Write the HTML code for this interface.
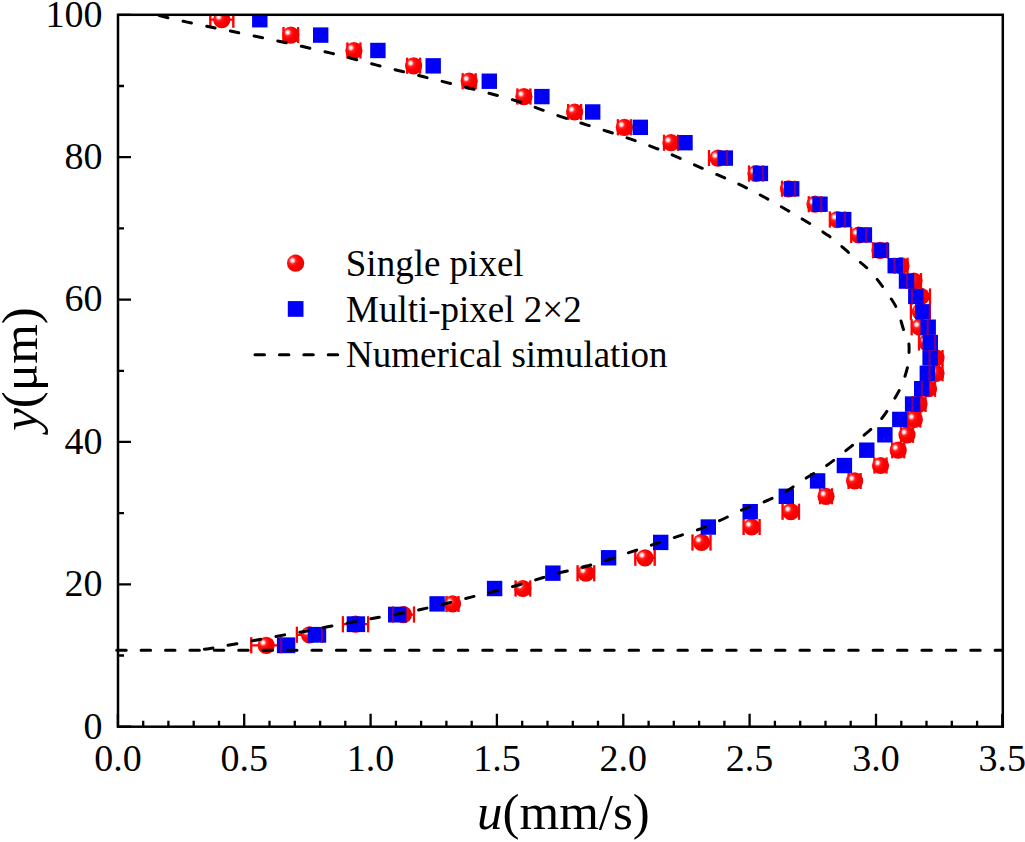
<!DOCTYPE html><html><head><meta charset="utf-8"><style>html,body{margin:0;padding:0;background:#fff;overflow:hidden}svg{display:block}</style></head><body>
<svg width="1025" height="842" viewBox="0 0 1025 842" font-family="Liberation Serif, serif">
<defs><radialGradient id="ball" cx="0.32" cy="0.36" r="0.75" fx="0.32" fy="0.34"><stop offset="0" stop-color="#ffffff"/><stop offset="0.1" stop-color="#ffe8e8"/><stop offset="0.27" stop-color="#ff2020"/><stop offset="0.5" stop-color="#ff0000"/><stop offset="0.85" stop-color="#f20000"/><stop offset="1" stop-color="#c80000"/></radialGradient><clipPath id="plot"><rect x="118.0" y="14.8" width="884.8" height="711.9"/></clipPath></defs>
<rect width="1025" height="842" fill="#fff"/>
<g clip-path="url(#plot)">
<path d="M210.3,19.7H233.3M210.3,11.7V27.7M233.3,11.7V27.7" stroke="#ff0000" stroke-width="2.2" fill="none"/>
<path d="M283.5,35.1H298.1M283.5,27.1V43.1M298.1,27.1V43.1" stroke="#ff0000" stroke-width="2.2" fill="none"/>
<path d="M347.4,50.5H360.4M347.4,42.5V58.5M360.4,42.5V58.5" stroke="#ff0000" stroke-width="2.2" fill="none"/>
<path d="M407.1,65.8H420.1M407.1,57.8V73.8M420.1,57.8V73.8" stroke="#ff0000" stroke-width="2.2" fill="none"/>
<path d="M462.7,81.2H475.7M462.7,73.2V89.2M475.7,73.2V89.2" stroke="#ff0000" stroke-width="2.2" fill="none"/>
<path d="M517.4,96.6H530.4M517.4,88.6V104.6M530.4,88.6V104.6" stroke="#ff0000" stroke-width="2.2" fill="none"/>
<path d="M568.1,112.0H581.1M568.1,104.0V120.0M581.1,104.0V120.0" stroke="#ff0000" stroke-width="2.2" fill="none"/>
<path d="M617.9,127.3H630.9M617.9,119.3V135.3M630.9,119.3V135.3" stroke="#ff0000" stroke-width="2.2" fill="none"/>
<path d="M664.0,142.7H678.0M664.0,134.7V150.7M678.0,134.7V150.7" stroke="#ff0000" stroke-width="2.2" fill="none"/>
<path d="M709.0,158.1H727.0M709.0,150.1V166.1M727.0,150.1V166.1" stroke="#ff0000" stroke-width="2.2" fill="none"/>
<path d="M749.0,173.5H763.0M749.0,165.5V181.5M763.0,165.5V181.5" stroke="#ff0000" stroke-width="2.2" fill="none"/>
<path d="M782.0,188.8H795.0M782.0,180.8V196.8M795.0,180.8V196.8" stroke="#ff0000" stroke-width="2.2" fill="none"/>
<path d="M808.8,204.2H821.2M808.8,196.2V212.2M821.2,196.2V212.2" stroke="#ff0000" stroke-width="2.2" fill="none"/>
<path d="M829.9,219.6H844.9M829.9,211.6V227.6M844.9,211.6V227.6" stroke="#ff0000" stroke-width="2.2" fill="none"/>
<path d="M851.2,235.0H866.2M851.2,227.0V243.0M866.2,227.0V243.0" stroke="#ff0000" stroke-width="2.2" fill="none"/>
<path d="M873.0,250.3H887.0M873.0,242.3V258.3M887.0,242.3V258.3" stroke="#ff0000" stroke-width="2.2" fill="none"/>
<path d="M894.5,265.7H907.5M894.5,257.7V273.7M907.5,257.7V273.7" stroke="#ff0000" stroke-width="2.2" fill="none"/>
<path d="M907.0,281.1H921.0M907.0,273.1V289.1M921.0,273.1V289.1" stroke="#ff0000" stroke-width="2.2" fill="none"/>
<path d="M912.0,296.4H930.0M912.0,288.4V304.4M930.0,288.4V304.4" stroke="#ff0000" stroke-width="2.2" fill="none"/>
<path d="M910.9,311.8H929.9M910.9,303.8V319.8M929.9,303.8V319.8" stroke="#ff0000" stroke-width="2.2" fill="none"/>
<path d="M911.7,327.2H927.7M911.7,319.2V335.2M927.7,319.2V335.2" stroke="#ff0000" stroke-width="2.2" fill="none"/>
<path d="M919.0,342.6H935.0M919.0,334.6V350.6M935.0,334.6V350.6" stroke="#ff0000" stroke-width="2.2" fill="none"/>
<path d="M929.5,357.9H942.5M929.5,349.9V365.9M942.5,349.9V365.9" stroke="#ff0000" stroke-width="2.2" fill="none"/>
<path d="M929.5,373.3H942.5M929.5,365.3V381.3M942.5,365.3V381.3" stroke="#ff0000" stroke-width="2.2" fill="none"/>
<path d="M922.0,388.7H935.0M922.0,380.7V396.7M935.0,380.7V396.7" stroke="#ff0000" stroke-width="2.2" fill="none"/>
<path d="M912.5,404.1H925.5M912.5,396.1V412.1M925.5,396.1V412.1" stroke="#ff0000" stroke-width="2.2" fill="none"/>
<path d="M908.3,419.4H920.3M908.3,411.4V427.4M920.3,411.4V427.4" stroke="#ff0000" stroke-width="2.2" fill="none"/>
<path d="M901.0,434.8H913.0M901.0,426.8V442.8M913.0,426.8V442.8" stroke="#ff0000" stroke-width="2.2" fill="none"/>
<path d="M892.2,450.2H904.2M892.2,442.2V458.2M904.2,442.2V458.2" stroke="#ff0000" stroke-width="2.2" fill="none"/>
<path d="M874.5,465.5H886.5M874.5,457.5V473.5M886.5,457.5V473.5" stroke="#ff0000" stroke-width="2.2" fill="none"/>
<path d="M848.6,480.9H860.6M848.6,472.9V488.9M860.6,472.9V488.9" stroke="#ff0000" stroke-width="2.2" fill="none"/>
<path d="M820.0,496.3H832.0M820.0,488.3V504.3M832.0,488.3V504.3" stroke="#ff0000" stroke-width="2.2" fill="none"/>
<path d="M782.6,511.7H799.0M782.6,503.7V519.7M799.0,503.7V519.7" stroke="#ff0000" stroke-width="2.2" fill="none"/>
<path d="M743.6,527.0H759.6M743.6,519.0V535.0M759.6,519.0V535.0" stroke="#ff0000" stroke-width="2.2" fill="none"/>
<path d="M692.5,542.4H710.5M692.5,534.4V550.4M710.5,534.4V550.4" stroke="#ff0000" stroke-width="2.2" fill="none"/>
<path d="M635.3,557.8H654.7M635.3,549.8V565.8M654.7,549.8V565.8" stroke="#ff0000" stroke-width="2.2" fill="none"/>
<path d="M577.6,573.2H594.2M577.6,565.2V581.2M594.2,565.2V581.2" stroke="#ff0000" stroke-width="2.2" fill="none"/>
<path d="M515.6,588.5H530.2M515.6,580.5V596.5M530.2,580.5V596.5" stroke="#ff0000" stroke-width="2.2" fill="none"/>
<path d="M446.5,603.9H458.5M446.5,595.9V611.9M458.5,595.9V611.9" stroke="#ff0000" stroke-width="2.2" fill="none"/>
<path d="M393.0,614.6H414.0M393.0,606.6V622.6M414.0,606.6V622.6" stroke="#ff0000" stroke-width="2.2" fill="none"/>
<path d="M342.9,624.2H368.1M342.9,616.2V632.2M368.1,616.2V632.2" stroke="#ff0000" stroke-width="2.2" fill="none"/>
<path d="M296.9,634.8H322.1M296.9,626.8V642.8M322.1,626.8V642.8" stroke="#ff0000" stroke-width="2.2" fill="none"/>
<path d="M251.2,645.3H281.2M251.2,637.3V653.3M281.2,637.3V653.3" stroke="#ff0000" stroke-width="2.2" fill="none"/>
<circle cx="221.8" cy="19.7" r="8.6" fill="url(#ball)"/>
<circle cx="290.8" cy="35.1" r="8.6" fill="url(#ball)"/>
<circle cx="353.9" cy="50.5" r="8.6" fill="url(#ball)"/>
<circle cx="413.6" cy="65.8" r="8.6" fill="url(#ball)"/>
<circle cx="469.2" cy="81.2" r="8.6" fill="url(#ball)"/>
<circle cx="523.9" cy="96.6" r="8.6" fill="url(#ball)"/>
<circle cx="574.6" cy="112.0" r="8.6" fill="url(#ball)"/>
<circle cx="624.4" cy="127.3" r="8.6" fill="url(#ball)"/>
<circle cx="671.0" cy="142.7" r="8.6" fill="url(#ball)"/>
<circle cx="718.0" cy="158.1" r="8.6" fill="url(#ball)"/>
<circle cx="756.0" cy="173.5" r="8.6" fill="url(#ball)"/>
<circle cx="788.5" cy="188.8" r="8.6" fill="url(#ball)"/>
<circle cx="815.0" cy="204.2" r="8.6" fill="url(#ball)"/>
<circle cx="837.4" cy="219.6" r="8.6" fill="url(#ball)"/>
<circle cx="858.7" cy="235.0" r="8.6" fill="url(#ball)"/>
<circle cx="880.0" cy="250.3" r="8.6" fill="url(#ball)"/>
<circle cx="901.0" cy="265.7" r="8.6" fill="url(#ball)"/>
<circle cx="914.0" cy="281.1" r="8.6" fill="url(#ball)"/>
<circle cx="921.0" cy="296.4" r="8.6" fill="url(#ball)"/>
<circle cx="920.4" cy="311.8" r="8.6" fill="url(#ball)"/>
<circle cx="919.7" cy="327.2" r="8.6" fill="url(#ball)"/>
<circle cx="927.0" cy="342.6" r="8.6" fill="url(#ball)"/>
<circle cx="936.0" cy="357.9" r="8.6" fill="url(#ball)"/>
<circle cx="936.0" cy="373.3" r="8.6" fill="url(#ball)"/>
<circle cx="928.5" cy="388.7" r="8.6" fill="url(#ball)"/>
<circle cx="919.0" cy="404.1" r="8.6" fill="url(#ball)"/>
<circle cx="914.3" cy="419.4" r="8.6" fill="url(#ball)"/>
<circle cx="907.0" cy="434.8" r="8.6" fill="url(#ball)"/>
<circle cx="898.2" cy="450.2" r="8.6" fill="url(#ball)"/>
<circle cx="880.5" cy="465.5" r="8.6" fill="url(#ball)"/>
<circle cx="854.6" cy="480.9" r="8.6" fill="url(#ball)"/>
<circle cx="826.0" cy="496.3" r="8.6" fill="url(#ball)"/>
<circle cx="790.8" cy="511.7" r="8.6" fill="url(#ball)"/>
<circle cx="751.6" cy="527.0" r="8.6" fill="url(#ball)"/>
<circle cx="701.5" cy="542.4" r="8.6" fill="url(#ball)"/>
<circle cx="645.0" cy="557.8" r="8.6" fill="url(#ball)"/>
<circle cx="585.9" cy="573.2" r="8.6" fill="url(#ball)"/>
<circle cx="522.9" cy="588.5" r="8.6" fill="url(#ball)"/>
<circle cx="452.5" cy="603.9" r="8.6" fill="url(#ball)"/>
<circle cx="403.5" cy="614.6" r="8.6" fill="url(#ball)"/>
<circle cx="355.5" cy="624.2" r="8.6" fill="url(#ball)"/>
<circle cx="309.5" cy="634.8" r="8.6" fill="url(#ball)"/>
<circle cx="266.2" cy="645.3" r="8.6" fill="url(#ball)"/>
<rect x="252.10" y="12.03" width="15.4" height="15.4" fill="#0000f6"/>
<rect x="313.00" y="27.40" width="15.4" height="15.4" fill="#0000f6"/>
<rect x="370.20" y="42.78" width="15.4" height="15.4" fill="#0000f6"/>
<rect x="425.50" y="58.15" width="15.4" height="15.4" fill="#0000f6"/>
<rect x="481.60" y="73.52" width="15.4" height="15.4" fill="#0000f6"/>
<rect x="534.20" y="88.89" width="15.4" height="15.4" fill="#0000f6"/>
<rect x="585.00" y="104.27" width="15.4" height="15.4" fill="#0000f6"/>
<rect x="632.60" y="119.64" width="15.4" height="15.4" fill="#0000f6"/>
<rect x="677.30" y="135.01" width="15.4" height="15.4" fill="#0000f6"/>
<rect x="717.60" y="150.39" width="15.4" height="15.4" fill="#0000f6"/>
<rect x="752.70" y="165.76" width="15.4" height="15.4" fill="#0000f6"/>
<rect x="784.00" y="181.13" width="15.4" height="15.4" fill="#0000f6"/>
<rect x="812.30" y="196.51" width="15.4" height="15.4" fill="#0000f6"/>
<rect x="836.00" y="211.88" width="15.4" height="15.4" fill="#0000f6"/>
<rect x="856.70" y="227.25" width="15.4" height="15.4" fill="#0000f6"/>
<rect x="873.80" y="242.62" width="15.4" height="15.4" fill="#0000f6"/>
<rect x="887.50" y="258.00" width="15.4" height="15.4" fill="#0000f6"/>
<rect x="898.80" y="273.37" width="15.4" height="15.4" fill="#0000f6"/>
<rect x="908.10" y="288.74" width="15.4" height="15.4" fill="#0000f6"/>
<rect x="915.10" y="304.12" width="15.4" height="15.4" fill="#0000f6"/>
<rect x="920.50" y="319.49" width="15.4" height="15.4" fill="#0000f6"/>
<rect x="922.60" y="334.86" width="15.4" height="15.4" fill="#0000f6"/>
<rect x="922.40" y="350.24" width="15.4" height="15.4" fill="#0000f6"/>
<rect x="919.60" y="365.61" width="15.4" height="15.4" fill="#0000f6"/>
<rect x="914.00" y="380.98" width="15.4" height="15.4" fill="#0000f6"/>
<rect x="904.90" y="396.36" width="15.4" height="15.4" fill="#0000f6"/>
<rect x="892.10" y="411.73" width="15.4" height="15.4" fill="#0000f6"/>
<rect x="877.20" y="427.10" width="15.4" height="15.4" fill="#0000f6"/>
<rect x="859.10" y="442.47" width="15.4" height="15.4" fill="#0000f6"/>
<rect x="836.70" y="457.85" width="15.4" height="15.4" fill="#0000f6"/>
<rect x="809.90" y="473.22" width="15.4" height="15.4" fill="#0000f6"/>
<rect x="778.60" y="488.59" width="15.4" height="15.4" fill="#0000f6"/>
<rect x="742.50" y="503.97" width="15.4" height="15.4" fill="#0000f6"/>
<rect x="700.60" y="519.34" width="15.4" height="15.4" fill="#0000f6"/>
<rect x="653.00" y="534.71" width="15.4" height="15.4" fill="#0000f6"/>
<rect x="600.90" y="550.08" width="15.4" height="15.4" fill="#0000f6"/>
<rect x="545.20" y="565.46" width="15.4" height="15.4" fill="#0000f6"/>
<rect x="486.90" y="580.83" width="15.4" height="15.4" fill="#0000f6"/>
<rect x="429.40" y="596.20" width="15.4" height="15.4" fill="#0000f6"/>
<rect x="388.00" y="606.70" width="18.4" height="15.8" fill="#0000f6"/>
<rect x="346.70" y="616.30" width="18.4" height="15.8" fill="#0000f6"/>
<rect x="307.80" y="626.90" width="18.4" height="15.8" fill="#0000f6"/>
<rect x="276.90" y="637.40" width="18.4" height="15.8" fill="#0000f6"/>
<path d="M210.3,11.7V27.7M233.3,11.7V27.7" stroke="#ff0000" stroke-opacity="0.45" stroke-width="2.2" fill="none"/>
<path d="M283.5,27.1V43.1M298.1,27.1V43.1" stroke="#ff0000" stroke-opacity="0.45" stroke-width="2.2" fill="none"/>
<path d="M347.4,42.5V58.5M360.4,42.5V58.5" stroke="#ff0000" stroke-opacity="0.45" stroke-width="2.2" fill="none"/>
<path d="M407.1,57.8V73.8M420.1,57.8V73.8" stroke="#ff0000" stroke-opacity="0.45" stroke-width="2.2" fill="none"/>
<path d="M462.7,73.2V89.2M475.7,73.2V89.2" stroke="#ff0000" stroke-opacity="0.45" stroke-width="2.2" fill="none"/>
<path d="M517.4,88.6V104.6M530.4,88.6V104.6" stroke="#ff0000" stroke-opacity="0.45" stroke-width="2.2" fill="none"/>
<path d="M568.1,104.0V120.0M581.1,104.0V120.0" stroke="#ff0000" stroke-opacity="0.45" stroke-width="2.2" fill="none"/>
<path d="M617.9,119.3V135.3M630.9,119.3V135.3" stroke="#ff0000" stroke-opacity="0.45" stroke-width="2.2" fill="none"/>
<path d="M664.0,134.7V150.7M678.0,134.7V150.7" stroke="#ff0000" stroke-opacity="0.45" stroke-width="2.2" fill="none"/>
<path d="M709.0,150.1V166.1M727.0,150.1V166.1" stroke="#ff0000" stroke-opacity="0.45" stroke-width="2.2" fill="none"/>
<path d="M749.0,165.5V181.5M763.0,165.5V181.5" stroke="#ff0000" stroke-opacity="0.45" stroke-width="2.2" fill="none"/>
<path d="M782.0,180.8V196.8M795.0,180.8V196.8" stroke="#ff0000" stroke-opacity="0.45" stroke-width="2.2" fill="none"/>
<path d="M808.8,196.2V212.2M821.2,196.2V212.2" stroke="#ff0000" stroke-opacity="0.45" stroke-width="2.2" fill="none"/>
<path d="M829.9,211.6V227.6M844.9,211.6V227.6" stroke="#ff0000" stroke-opacity="0.45" stroke-width="2.2" fill="none"/>
<path d="M851.2,227.0V243.0M866.2,227.0V243.0" stroke="#ff0000" stroke-opacity="0.45" stroke-width="2.2" fill="none"/>
<path d="M873.0,242.3V258.3M887.0,242.3V258.3" stroke="#ff0000" stroke-opacity="0.45" stroke-width="2.2" fill="none"/>
<path d="M894.5,257.7V273.7M907.5,257.7V273.7" stroke="#ff0000" stroke-opacity="0.45" stroke-width="2.2" fill="none"/>
<path d="M907.0,273.1V289.1M921.0,273.1V289.1" stroke="#ff0000" stroke-opacity="0.45" stroke-width="2.2" fill="none"/>
<path d="M912.0,288.4V304.4M930.0,288.4V304.4" stroke="#ff0000" stroke-opacity="0.45" stroke-width="2.2" fill="none"/>
<path d="M910.9,303.8V319.8M929.9,303.8V319.8" stroke="#ff0000" stroke-opacity="0.45" stroke-width="2.2" fill="none"/>
<path d="M911.7,319.2V335.2M927.7,319.2V335.2" stroke="#ff0000" stroke-opacity="0.45" stroke-width="2.2" fill="none"/>
<path d="M919.0,334.6V350.6M935.0,334.6V350.6" stroke="#ff0000" stroke-opacity="0.45" stroke-width="2.2" fill="none"/>
<path d="M929.5,349.9V365.9M942.5,349.9V365.9" stroke="#ff0000" stroke-opacity="0.45" stroke-width="2.2" fill="none"/>
<path d="M929.5,365.3V381.3M942.5,365.3V381.3" stroke="#ff0000" stroke-opacity="0.45" stroke-width="2.2" fill="none"/>
<path d="M922.0,380.7V396.7M935.0,380.7V396.7" stroke="#ff0000" stroke-opacity="0.45" stroke-width="2.2" fill="none"/>
<path d="M912.5,396.1V412.1M925.5,396.1V412.1" stroke="#ff0000" stroke-opacity="0.45" stroke-width="2.2" fill="none"/>
<path d="M908.3,411.4V427.4M920.3,411.4V427.4" stroke="#ff0000" stroke-opacity="0.45" stroke-width="2.2" fill="none"/>
<path d="M901.0,426.8V442.8M913.0,426.8V442.8" stroke="#ff0000" stroke-opacity="0.45" stroke-width="2.2" fill="none"/>
<path d="M892.2,442.2V458.2M904.2,442.2V458.2" stroke="#ff0000" stroke-opacity="0.45" stroke-width="2.2" fill="none"/>
<path d="M874.5,457.5V473.5M886.5,457.5V473.5" stroke="#ff0000" stroke-opacity="0.45" stroke-width="2.2" fill="none"/>
<path d="M848.6,472.9V488.9M860.6,472.9V488.9" stroke="#ff0000" stroke-opacity="0.45" stroke-width="2.2" fill="none"/>
<path d="M820.0,488.3V504.3M832.0,488.3V504.3" stroke="#ff0000" stroke-opacity="0.45" stroke-width="2.2" fill="none"/>
<path d="M782.6,503.7V519.7M799.0,503.7V519.7" stroke="#ff0000" stroke-opacity="0.45" stroke-width="2.2" fill="none"/>
<path d="M743.6,519.0V535.0M759.6,519.0V535.0" stroke="#ff0000" stroke-opacity="0.45" stroke-width="2.2" fill="none"/>
<path d="M692.5,534.4V550.4M710.5,534.4V550.4" stroke="#ff0000" stroke-opacity="0.45" stroke-width="2.2" fill="none"/>
<path d="M635.3,549.8V565.8M654.7,549.8V565.8" stroke="#ff0000" stroke-opacity="0.45" stroke-width="2.2" fill="none"/>
<path d="M577.6,565.2V581.2M594.2,565.2V581.2" stroke="#ff0000" stroke-opacity="0.45" stroke-width="2.2" fill="none"/>
<path d="M515.6,580.5V596.5M530.2,580.5V596.5" stroke="#ff0000" stroke-opacity="0.45" stroke-width="2.2" fill="none"/>
<path d="M446.5,595.9V611.9M458.5,595.9V611.9" stroke="#ff0000" stroke-opacity="0.45" stroke-width="2.2" fill="none"/>
<path d="M393.0,606.6V622.6M414.0,606.6V622.6" stroke="#ff0000" stroke-opacity="0.45" stroke-width="2.2" fill="none"/>
<path d="M342.9,616.2V632.2M368.1,616.2V632.2" stroke="#ff0000" stroke-opacity="0.45" stroke-width="2.2" fill="none"/>
<path d="M296.9,626.8V642.8M322.1,626.8V642.8" stroke="#ff0000" stroke-opacity="0.45" stroke-width="2.2" fill="none"/>
<path d="M251.2,637.3V653.3M281.2,637.3V653.3" stroke="#ff0000" stroke-opacity="0.45" stroke-width="2.2" fill="none"/>
</g>
<path d="M156.0,14.8 C161.0,16.0 173.8,19.2 186.1,21.9 C198.4,24.6 214.3,27.7 230.0,31.0 C245.7,34.3 263.0,37.8 280.0,41.5 C297.0,45.2 315.9,49.5 332.0,53.4 C348.1,57.3 361.5,61.2 376.8,65.1 C392.1,69.0 408.1,72.9 423.7,76.8 C439.3,80.7 454.9,84.4 470.5,88.5 C486.1,92.6 502.0,96.4 517.3,101.2 C532.6,106.0 546.9,111.9 562.4,117.1 C577.9,122.3 594.6,127.1 610.2,132.3 C625.8,137.5 640.7,142.3 656.1,148.3 C671.5,154.3 687.4,161.7 702.4,168.3 C717.4,174.9 732.1,180.8 746.3,187.8 C760.4,194.8 773.6,202.2 787.3,210.2 C801.0,218.2 817.4,227.9 828.3,235.6 C839.2,243.3 845.7,250.3 852.7,256.2 C859.7,262.1 864.8,265.4 870.2,271.1 C875.6,276.8 880.8,284.1 885.2,290.3 C889.6,296.5 893.7,301.8 896.8,308.5 C899.9,315.2 901.9,325.2 903.9,330.8 C905.9,336.4 907.6,338.4 908.5,342.0 C909.4,345.6 909.1,348.8 909.0,352.7 C908.9,356.6 909.0,360.6 907.9,365.6 C906.8,370.7 904.8,377.5 902.6,383.0 C900.4,388.5 898.2,392.6 894.6,398.7 C891.0,404.8 886.3,413.2 880.8,419.6 C875.3,426.1 867.7,432.0 861.7,437.4 C855.7,442.8 850.5,446.9 844.6,451.7 C838.7,456.5 832.2,461.8 826.1,466.0 C820.0,470.2 814.6,472.8 807.8,477.1 C801.0,481.4 792.5,487.6 785.4,491.7 C778.2,495.8 771.9,498.6 764.9,501.5 C757.9,504.4 750.7,506.2 743.4,509.3 C736.1,512.4 728.1,516.8 721.0,520.0 C713.9,523.2 708.1,525.9 700.5,528.8 C692.9,531.6 683.6,534.4 675.6,537.1 C667.6,539.8 660.0,542.3 652.2,544.9 C644.4,547.5 636.6,550.1 628.8,552.7 C621.0,555.3 613.0,558.1 605.4,560.5 C597.8,562.9 590.7,565.2 582.9,567.3 C575.1,569.4 566.5,571.1 558.5,573.2 C550.5,575.3 542.9,577.7 535.1,580.0 C527.3,582.3 522.5,583.9 511.7,586.8 C500.9,589.7 485.1,593.6 470.1,597.4 C455.1,601.1 437.9,605.8 421.8,609.3 C405.7,612.8 388.3,615.5 373.5,618.3 C358.7,621.0 344.1,623.6 332.8,625.8 C321.5,627.9 315.6,629.4 305.9,631.2 C296.1,633.0 285.8,634.6 274.3,636.7 C262.8,638.8 247.5,641.8 236.8,643.7 C226.1,645.7 216.5,647.4 210.3,648.4 C204.1,649.4 201.3,649.4 199.5,649.6" fill="none" stroke="#000" stroke-width="3" stroke-dasharray="8.7 15.48" stroke-dashoffset="-3.65" stroke-linecap="round"/>
<path d="M116.7,650.2H1002" fill="none" stroke="#000" stroke-width="3" stroke-dasharray="9.5 14.9" stroke-linecap="round"/>
<rect x="118.0" y="14.8" width="884.8" height="711.9" fill="none" stroke="#000" stroke-width="2.5"/>
<path d="M117.9,726.7V713.7M143.2,726.7V720.7M168.4,726.7V720.7M193.7,726.7V720.7M219.0,726.7V720.7M244.2,726.7V713.7M269.5,726.7V720.7M294.8,726.7V720.7M320.1,726.7V720.7M345.3,726.7V720.7M370.6,726.7V713.7M395.9,726.7V720.7M421.1,726.7V720.7M446.4,726.7V720.7M471.7,726.7V720.7M496.9,726.7V713.7M522.2,726.7V720.7M547.5,726.7V720.7M572.8,726.7V720.7M598.0,726.7V720.7M623.3,726.7V713.7M648.6,726.7V720.7M673.8,726.7V720.7M699.1,726.7V720.7M724.4,726.7V720.7M749.6,726.7V713.7M774.9,726.7V720.7M800.2,726.7V720.7M825.5,726.7V720.7M850.7,726.7V720.7M876.0,726.7V713.7M901.3,726.7V720.7M926.5,726.7V720.7M951.8,726.7V720.7M977.1,726.7V720.7M1002.3,726.7V713.7M118.0,726.7H131.0M118.0,655.5H124.0M118.0,584.3H131.0M118.0,513.1H124.0M118.0,441.9H131.0M118.0,370.8H124.0M118.0,299.6H131.0M118.0,228.4H124.0M118.0,157.2H131.0M118.0,86.0H124.0M118.0,14.8H131.0" stroke="#000" stroke-width="2.3" fill="none"/>
<text x="117.9" y="771" font-size="38" text-anchor="middle">0.0</text>
<text x="244.2" y="771" font-size="38" text-anchor="middle">0.5</text>
<text x="370.6" y="771" font-size="38" text-anchor="middle">1.0</text>
<text x="496.9" y="771" font-size="38" text-anchor="middle">1.5</text>
<text x="623.3" y="771" font-size="38" text-anchor="middle">2.0</text>
<text x="749.6" y="771" font-size="38" text-anchor="middle">2.5</text>
<text x="876.0" y="771" font-size="38" text-anchor="middle">3.0</text>
<text x="1002.3" y="771" font-size="38" text-anchor="middle">3.5</text>
<text x="102.4" y="738.5" font-size="38" text-anchor="end">0</text>
<text x="102.4" y="596.1" font-size="38" text-anchor="end">20</text>
<text x="102.4" y="453.7" font-size="38" text-anchor="end">40</text>
<text x="102.4" y="311.4" font-size="38" text-anchor="end">60</text>
<text x="102.4" y="169.0" font-size="38" text-anchor="end">80</text>
<text x="102.4" y="26.6" font-size="38" text-anchor="end">100</text>
<text x="477" y="828.6" font-size="51"><tspan font-style="italic">u</tspan>(mm/s)</text>
<text transform="translate(37,430.8) rotate(-90)" font-size="51"><tspan font-style="italic">y</tspan>(μm)</text>
<circle cx="295.6" cy="263.2" r="8.6" fill="url(#ball)"/>
<rect x="287.8" y="301.1" width="15.7" height="15.7" fill="#0000f6"/>
<path d="M255,354.7H338" stroke="#000" stroke-width="3" stroke-dasharray="9.5 14.9" stroke-linecap="round"/>
<text x="345.8" y="276" font-size="37">Single pixel</text>
<text x="346" y="321.5" font-size="37">Multi-pixel 2×2</text>
<text x="346" y="367" font-size="37">Numerical simulation</text>
</svg></body></html>
